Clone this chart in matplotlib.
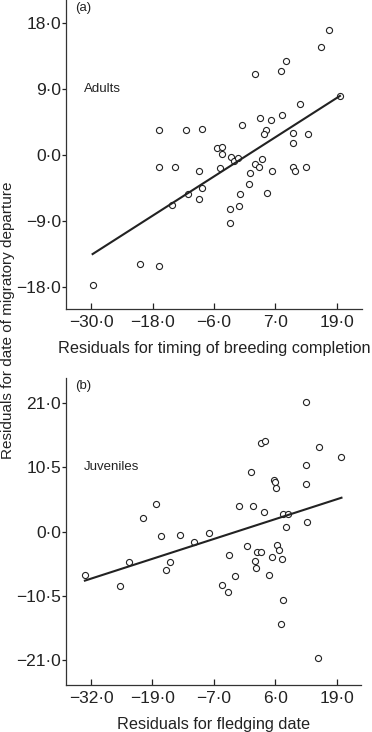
import numpy as np
import matplotlib
matplotlib.use("Agg")
import matplotlib.pyplot as plt

plt.rcParams['font.family'] = ['Liberation Sans', 'DejaVu Sans']

# (a) adults: residual timing of breeding completion vs residual departure date
adult_x = [-16.7, -11.5, -8.4, -16.7, -13.6, -8.9, -5.5, -4.5, -4.45, -4.8,
           -2.7, -2.0, -1.3, -0.6, 2.0, 2.9, 5.1, 4.2, 3.8, 7.2,
           7.1, 8.0, 10.8, 9.4, 9.4, 12.4, 14.9, 16.5, 18.6, 3.3,
           2.0, 2.8, 1.1, 5.4, 9.5, 9.9, 11.9, 0.9, -8.3, -11.1,
           -8.9, -14.1, -2.9, -2.9, -1.05, -0.9, 4.3, -20.4, -16.7, -29.7]
adult_y = [3.5, 3.5, 3.6, -1.6, -1.6, -2.2, 0.95, 1.1, 0.2, -1.8,
           -0.3, -0.8, -0.4, 4.1, 11.05, 5.1, 4.8, 3.4, 2.9, 5.5,
           11.5, 12.9, 7.0, 3.1, 1.7, 2.95, 14.8, 17.1, 8.1, -0.55,
           -1.2, -1.55, -2.45, -2.1, -1.55, -2.1, -1.55, -3.9, -4.5, -5.3,
           -5.96, -6.8, -7.3, -9.2, -7.0, -5.3, -5.2, -14.8, -15.1, -17.7]
adult_fit_x = [-29.7, 18.6]
adult_fit_y = [-13.5, 8.1]
adult_xticks = [-30, -18, -6, 6, 18]
adult_xlabels = ['\u221230\u00b70', '\u221218\u00b70', '\u22126\u00b70', '7\u00b70', '19\u00b70']
adult_yticks = [18, 9, 0, -9, -18]
adult_ylabels = ['18\u00b70', '9\u00b70', '0\u00b70', '\u22129\u00b70', '\u221218\u00b70']

# (b) juveniles: residual fledging date vs residual departure date
juv_x = [13.45, 3.9, 4.9, 16.2, 20.9, 13.45, 1.8, 6.8, 7.0, 7.1,
         13.4, -18.2, -20.9, -0.7, 2.2, 4.6, 8.7, 9.7, 9.3, 13.7,
         -17.1, -13.1, -7.05, -10.2, 1.0, 7.3, -33.3, -25.9, -23.9, -16.2,
         -15.2, -4.3, -3.0, -2.8, -1.6, 3.2, 3.9, 2.6, 2.9, 6.2,
         5.6, 7.8, 8.5, 8.6, 8.2, 16.0]
juv_y = [21.1, 14.4, 14.8, 13.7, 12.2, 10.9, 9.7, 8.4, 8.1, 7.1,
         7.8, 4.4, 2.2, 4.2, 4.2, 3.2, 2.8, 2.9, 0.7, 1.5,
         -0.7, -0.65, -0.2, -1.7, -2.3, -2.2, -7.05, -8.8, -5.0, -6.3,
         -5.0, -8.7, -9.8, -3.8, -7.2, -3.4, -3.4, -4.8, -5.9, -4.2,
         -7.05, -3.0, -4.4, -11.2, -15.0, -20.6]
juv_fit_x = [-33.3, 21.0]
juv_fit_y = [-8.0, 5.5]
juv_xticks = [-32, -19, -6, 7, 20]
juv_xlabels = ['\u221232\u00b70', '\u221219\u00b70', '\u22127\u00b70', '6\u00b70', '19\u00b70']
juv_yticks = [21, 10.5, 0, -10.5, -21]
juv_ylabels = ['21\u00b70', '10\u00b75', '0\u00b70', '\u221210\u00b75', '\u221221\u00b70']


def draw_panel(ax, x, y, fit_x, fit_y, xticks, xlabels, yticks, ylabels,
               xlim, ylim, xlabel, tag, group, group_y):
    ax.plot(x, y, linestyle='none', marker='o', markersize=4.4,
            markerfacecolor='white', markeredgecolor='#222222',
            markeredgewidth=0.8)
    ax.plot(fit_x, fit_y, color='#222222', linewidth=1.5)
    ax.set_xlim(xlim)
    ax.set_ylim(ylim)
    ax.set_xticks(xticks)
    ax.set_xticklabels(xlabels)
    ax.set_yticks(yticks)
    ax.set_yticklabels(ylabels)
    for side in ['top', 'right']:
        ax.spines[side].set_visible(False)
    for side in ['left', 'bottom']:
        ax.spines[side].set_linewidth(0.9)
        ax.spines[side].set_color('#333333')
    ax.tick_params(axis='x', direction='in', length=4, width=0.9,
                   labelsize=12.5, pad=4, colors='#222222')
    ax.tick_params(axis='y', direction='out', length=3, width=0.9,
                   labelsize=12.5, pad=0.5, colors='#222222')
    ax.set_xlabel(xlabel, fontsize=11.7, labelpad=8, color='#222222')
    ax.text(0.03, 0.995, tag, transform=ax.transAxes, fontsize=9.5,
            ha='left', va='top', color='#222222')
    ax.text(0.06, group_y, group, transform=ax.transAxes, fontsize=9.5,
            ha='left', va='center', color='#222222')


fig = plt.figure(figsize=(3.72, 7.32), dpi=100)
ax_a = fig.add_axes([0.1774, 0.5779, 0.7956, 0.4221])
ax_b = fig.add_axes([0.1774, 0.0642, 0.7926, 0.4194])

draw_panel(ax_a, adult_x, adult_y, adult_fit_x, adult_fit_y,
           adult_xticks, adult_xlabels, adult_yticks, adult_ylabels,
           (-34.9, 22.9), (-21.0, 21.2),
           'Residuals for timing of breeding completion', '(a)', 'Adults', 0.712)
draw_panel(ax_b, juv_x, juv_y, juv_fit_x, juv_fit_y,
           juv_xticks, juv_xlabels, juv_yticks, juv_ylabels,
           (-37.3, 25.1), (-25.0, 25.0),
           'Residuals for fledging date', '(b)', 'Juveniles', 0.71)

fig.text(8 / 372, 1 - 320 / 732, 'Residuals for date of migratory departure',
         rotation=90, ha='center', va='center', fontsize=11, color='#222222')

fig.savefig('out.png', dpi=100)
